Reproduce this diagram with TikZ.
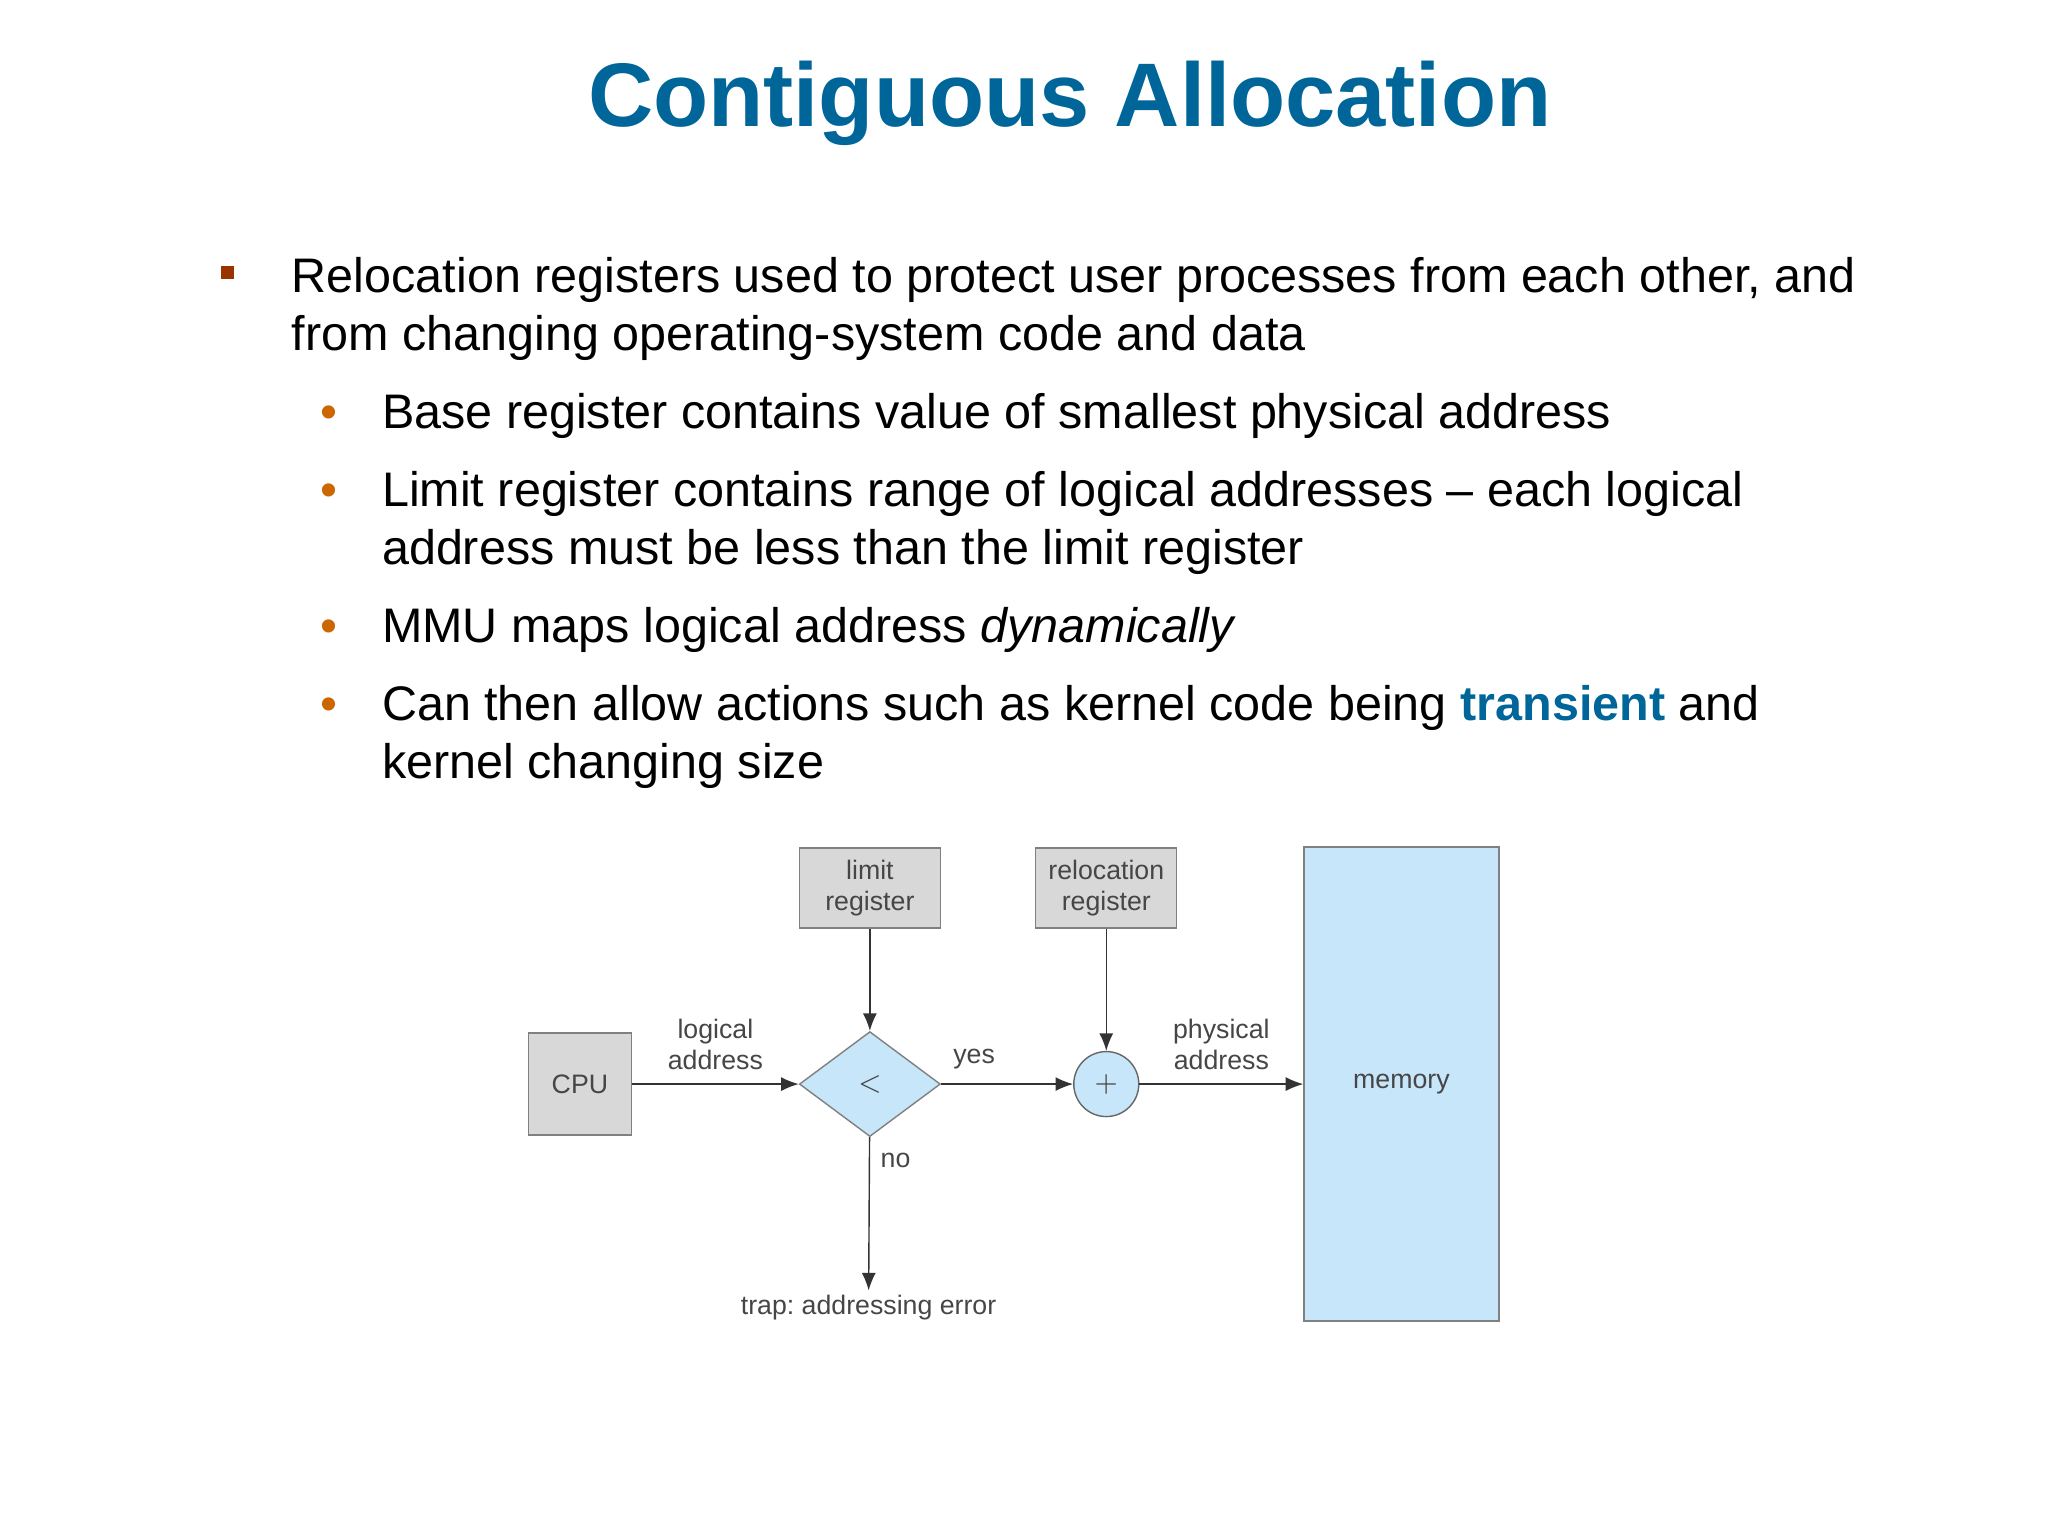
\documentclass[tikz,border=0pt]{standalone}
\usepackage{fontspec}
\setmainfont{Liberation Sans}
\usetikzlibrary{positioning,arrows.meta,shapes.geometric}
\definecolor{titleblue}{RGB}{0,102,153}
\definecolor{sqred}{RGB}{153,51,0}
\definecolor{dotorange}{RGB}{204,102,0}
\definecolor{boxgray}{RGB}{216,216,216}
\definecolor{memblue}{RGB}{200,230,250}
\definecolor{txtgray}{RGB}{70,70,70}
\frenchspacing
\tikzset{
  body/.style={anchor=base west,inner sep=0pt,font=\fontsize{13.8}{16}\selectfont},
  reg/.style={draw=gray,fill=boxgray,minimum width=1.41cm,minimum height=0.8cm,align=center,inner sep=1pt,font=\fontsize{7.6}{8.6}\selectfont,text=txtgray},
  lbl/.style={align=center,inner sep=1pt,font=\fontsize{7.6}{8.6}\selectfont,text=txtgray},
  arr/.style={-{Latex[length=5pt,width=4pt]},thin,black!80}
}
\begin{document}
\begin{tikzpicture}[x=0.013061cm,y=-0.013061cm]
    \useasboundingbox (0,0) rectangle (1568,1176);
    % Titre
    \node[font=\fontsize{25.7}{30}\selectfont\bfseries,text=titleblue] (title) at (819,79) {Contiguous Allocation};
    % Texte
    \node[anchor=base west,inner sep=0pt,fill=sqred,minimum size=0.13cm] (sq) at (169,209) {};
    \node[body] (l1) at (223,224) {Relocation registers used to protect user processes from each other, and};
    \node[body] (l2) at (223,268) {from changing operating-system code and data};
    \foreach \y in {328,388,492,552}
        \node[body,text=dotorange] at (245,\y) {\textbullet};
    \node[body] (b1) at (292,328) {Base register contains value of smallest physical address};
    \node[body] (b2) at (292,388) {Limit register contains range of logical addresses -- each logical};
    \node[body] (b2b) at (292,432) {address must be less than the limit register};
    \node[body] (b3) at (292,492) {MMU maps logical address \textit{dynamically}};
    \node[body] (b4) at (292,552) {Can then allow actions such as kernel code being \textbf{\color{titleblue}transient} and};
    \node[body] (b4b) at (292,596) {kernel changing size};
    % Schéma
    \node[reg,minimum width=1.03cm,minimum height=1.02cm] (cpu) at (444,830) {CPU};
    \node[diamond,draw=gray,fill=memblue,minimum width=1.41cm,minimum height=1.05cm,inner sep=0pt,text=txtgray,font=\fontsize{7.6}{8.6}\selectfont] (cmp) at (666,830) {$<$};
    \node[reg] (limit) at (666,680) {limit\\register};
    \node[reg] (reloc) at (847,680) {relocation\\register};
    \node[circle,draw=gray!80!black,fill=memblue,minimum size=0.65cm,inner sep=0pt,text=txtgray,font=\fontsize{7.6}{8.6}\selectfont] (add) at (847,830) {$+$};
    \node[draw=gray,fill=memblue,minimum width=1.95cm,minimum height=4.74cm,lbl] (mem) at (1073,830) {memory};
    \node[lbl,anchor=north] (trap) at (665,988) {trap: addressing error};
    \draw[arr] (cpu) -- node[lbl,above=3pt] {logical\\address} (cmp);
    \draw[arr] (limit) -- (cmp);
    \draw[arr] (cmp) -- node[lbl,above=3pt,pos=0.25] {yes} (add);
    \draw[arr] (reloc) -- (add);
    \draw[arr] (add) -- node[lbl,above=3pt] {physical\\address} (mem);
    \draw[arr] (cmp) -- node[lbl,right=2pt,pos=0.15] {no} (trap);
\end{tikzpicture}
\end{document}
